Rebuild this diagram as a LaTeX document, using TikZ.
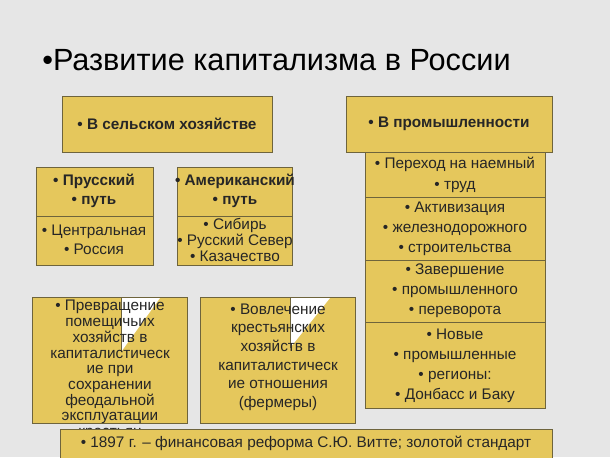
\documentclass[tikz,border=0pt]{standalone}
\usepackage{fontspec}
\setmainfont{Liberation Sans}
\definecolor{bg}{RGB}{230,230,230}
\definecolor{gold}{RGB}{229,199,92}
\definecolor{edge}{RGB}{110,100,60}
\begin{document}
\begin{tikzpicture}[x=0.75pt,y=-0.75pt,
  box/.style={fill=gold,draw=edge,line width=0.6pt},
  txt/.style={align=center,font=\fontsize{11.5}{13}\selectfont,inner sep=0pt,text=black!85}]
\fill[bg] (0,0) rectangle (610,457);
\useasboundingbox (0,0) rectangle (610,457);
\node[anchor=west,font=\fontsize{23}{26}\selectfont,inner sep=0pt] (title) at (42,60) {•Развитие капитализма в России};
% top boxes
\draw[box] (62,96) rectangle (272,152);
\node[txt,font=\bfseries\fontsize{11.5}{13}\selectfont] (sel) at (167,124) {• В сельском хозяйстве};
\draw[box] (346,96) rectangle (552,152);
\node[txt,font=\bfseries\fontsize{11.5}{13}\selectfont] (prom) at (449,124) {• В промышленности};
% Prussian
\draw[box] (36,167) rectangle (153,216);
\draw[box] (36,216) rectangle (153,265);
\node[txt,font=\bfseries\fontsize{11.5}{14}\selectfont] (pr) at (94,191) {• Прусский\\• путь};
\node[txt,font=\fontsize{11.5}{14.5}\selectfont] (prb) at (94,240) {• Центральная\\• Россия};
% American
\draw[box] (177,167) rectangle (292,216);
\draw[box] (177,216) rectangle (292,265);
\node[txt,font=\bfseries\fontsize{11.5}{14}\selectfont] (am) at (235,191) {• Американский\\• путь};
\node[txt,font=\fontsize{11.5}{12}\selectfont] (amb) at (235,240) {• Сибирь\\• Русский Север\\• Казачество};
% right column
\draw[box] (365,152) rectangle (545,197);
\draw[box] (365,197) rectangle (545,260);
\draw[box] (365,260) rectangle (545,322);
\draw[box] (365,322) rectangle (545,408);
\node[txt,font=\fontsize{11.5}{16}\selectfont] (r1) at (455,175) {• Переход на наемный\\• труд};
\node[txt,font=\fontsize{11.5}{15}\selectfont] (r2) at (455,229) {• Активизация\\• железнодорожного\\• строительства};
\node[txt,font=\fontsize{11.5}{15}\selectfont] (r3) at (455,291) {• Завершение\\• промышленного\\• переворота};
\node[txt,font=\fontsize{11.5}{15}\selectfont] (r4) at (455,366) {• Новые\\• промышленные\\• регионы:\\• Донбасс и Баку};
% bottom boxes
\draw[box] (32,297) rectangle (187,423);
\fill[white] (121,298) -- (160,298) -- (121,352) -- cycle;
\draw[edge,line width=0.6pt] (121,298) -- (121,352);
\node[txt,font=\fontsize{11.5}{11.8}\selectfont,anchor=north] (b1) at (110,300) {• Превращение\\помещичьих\\хозяйств в\\капиталистическ\\ие при\\сохранении\\феодальной\\эксплуатации\\крестьян};
\draw[box] (200,297) rectangle (355,423);
\fill[white] (290,298) -- (330,298) -- (290,348) -- cycle;
\draw[edge,line width=0.6pt] (290,298) -- (290,348);
\node[txt,font=\fontsize{11.5}{14}\selectfont] (b2) at (278,357) {• Вовлечение\\крестьянских\\хозяйств в\\капиталистическ\\ие отношения\\(фермеры)};
% strip
\draw[box] (60,429) rectangle (552,460);
\node[txt] (vitte) at (306,443) {• 1897 г. – финансовая реформа С.Ю. Витте; золотой стандарт};
\end{tikzpicture}
\end{document}
